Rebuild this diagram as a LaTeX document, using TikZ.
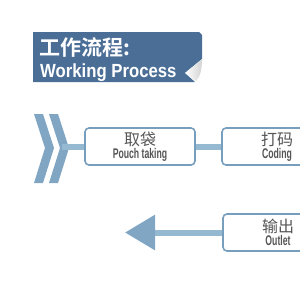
\documentclass[tikz,border=0pt]{standalone}
\usepackage{fontspec}
\usetikzlibrary{arrows.meta}
\newfontfamily\cjkfont{Noto Sans CJK SC}
\newfontfamily\cjkbold{Noto Sans CJK SC Bold}
\newfontfamily\titlefont[FakeStretch=0.88]{Liberation Sans Bold}
\newfontfamily\narrowfont[FakeStretch=0.62]{Liberation Sans Bold}

\definecolor{bannerblue}{RGB}{75,110,150}
\definecolor{chevblue}{RGB}{128,166,196}
\definecolor{boxline}{RGB}{120,158,190}
\definecolor{linkblue}{RGB}{150,185,210}
\definecolor{labelgray}{RGB}{85,85,85}

\newcommand\steplabel[2]{{\cjkfont\fontsize{16}{16}\selectfont #1}\\[1pt]
   {\narrowfont\fontsize{14}{14}\selectfont #2}}

\tikzset{
  stepbox/.style={draw=boxline,line width=1.6pt,rounded corners=4pt,fill=white,
    minimum width=110pt,minimum height=37pt,inner sep=0pt,align=center,
    text=labelgray,font=\fontsize{12}{12}\selectfont},
  link/.style={linkblue,line width=6pt},
}

\begin{document}
\begin{tikzpicture}[x=1pt,y=-1pt]
  \clip (0,0) rectangle (300,300);

  % Title banner with curled corner
  \fill[bannerblue] (33,32) -- (199,32) -- (202,35) -- (202,59) -- (185,73)
      -- (195,82) -- (33,82) -- cycle;
  \shade[left color=white,right color=gray!35] (185,73) -- (202,59)
      .. controls (202,70) and (200,77) .. (196,81) -- cycle;
  \node[anchor=base west,inner sep=0pt,text=white,font=\cjkbold\fontsize{21}{21}\selectfont]
      (titlecn) at (39,55) {工作流程:};
  \node[anchor=base west,inner sep=0pt,text=white,font=\titlefont\fontsize{19}{19}\selectfont]
      (titleen) at (40,77) {Working Process};

  % Double chevron
  \foreach \x in {34,49}
     \fill[chevblue] (\x,114) -- (\x+9,114) -- (\x+20,148) -- (\x+9,183)
        -- (\x,183) -- (\x+11,148) -- cycle;
  \coordinate (start) at (62,146.5);

  % Process steps
  \node[stepbox] (pouch) at (140,146.5) {\steplabel{取袋}{Pouch taking}};
  \node[stepbox] (coding) at (277,146.5) {\steplabel{打码}{Coding}};
  \node[stepbox] (outlet) at (278,232.5) {\steplabel{输出}{Outlet}};
  \coordinate (tip) at (125,232.5);

  % Connectors
  \draw[link] (start) -- (pouch);
  \draw[link] (pouch) -- (coding);
  \draw[link,-{Triangle[length=30pt,width=34pt,color=chevblue]}] (outlet) -- (tip);
\end{tikzpicture}
\end{document}
